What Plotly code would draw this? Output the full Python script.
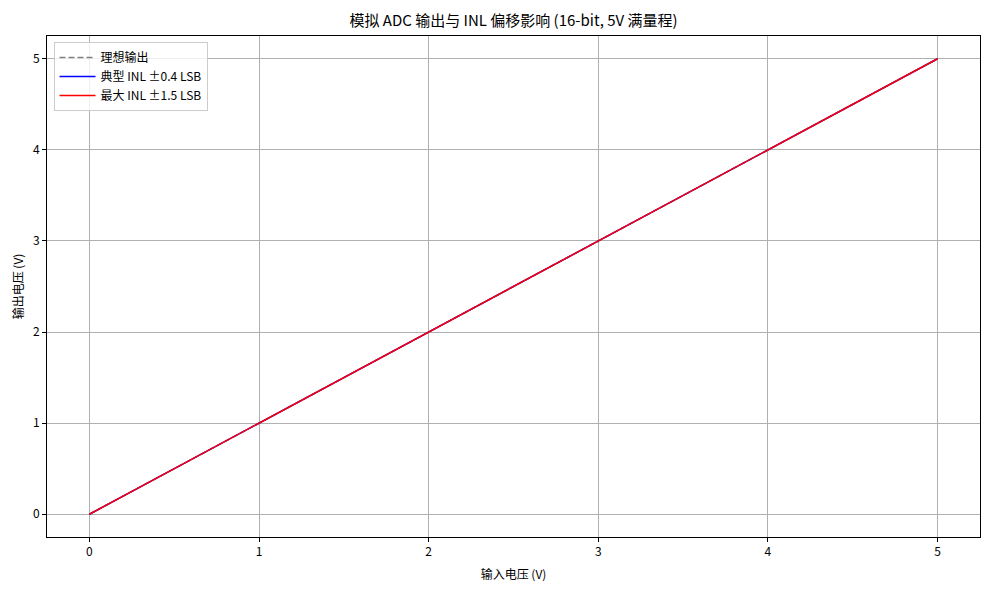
import plotly.graph_objects as go

# Data
input_v = [0.0, 0.5, 1.0, 1.5, 2.0, 2.5, 3.0, 3.5, 4.0, 4.5, 5.0]
ideal_out = [0.0, 0.5, 1.0, 1.5, 2.0, 2.5, 3.0, 3.5, 4.0, 4.5, 5.0]
typical_out = [0.0, 0.50001, 1.00002, 1.50003, 2.00003, 2.50003, 3.00002, 3.50001, 4.0, 4.49999, 5.0]
max_out = [0.0, 0.50004, 1.00007, 1.50009, 2.00011, 2.50011, 3.00009, 3.50006, 4.00003, 4.5, 5.0]

series_names = ["理想输出", "典型 INL ±0.4 LSB", "最大 INL ±1.5 LSB"]
x_ticks = [0, 1, 2, 3, 4, 5]
y_ticks = [0, 1, 2, 3, 4, 5]

FONT = "Noto Sans CJK SC, Noto Sans, DejaVu Sans, sans-serif"

fig = go.Figure()
fig.add_trace(go.Scatter(x=input_v, y=ideal_out, mode="lines", name=series_names[0],
                         line=dict(color="gray", width=1.5, dash="6px,3px")))
fig.add_trace(go.Scatter(x=input_v, y=typical_out, mode="lines", name=series_names[1],
                         line=dict(color="blue", width=1.5)))
fig.add_trace(go.Scatter(x=input_v, y=max_out, mode="lines", name=series_names[2],
                         line=dict(color="red", width=1.5)))

axis_common = dict(
    showline=True, linecolor="black", linewidth=1, mirror=True,
    showgrid=True, gridcolor="#b0b0b0", gridwidth=1,
    ticks="outside", ticklen=4, tickcolor="black", tickwidth=1,
    zeroline=False, tickfont=dict(size=12, color="black"), automargin=False,
)

fig.update_layout(
    width=981, height=582,
    margin=dict(l=39, r=9, t=28, b=53, autoexpand=False),
    paper_bgcolor="white", plot_bgcolor="white",
    font=dict(family=FONT, size=12, color="black"),
    title=dict(text="模拟 ADC 输出与 INL 偏移影响 (16-bit, 5V 满量程)", x=0.5, xanchor="center",
               xref="paper", y=0.978, yanchor="middle", font=dict(size=15, color="black")),
    xaxis=dict(range=[-0.25, 5.25], tickvals=x_ticks,
               title=dict(text="输入电压 (V)", font=dict(size=12), standoff=12), **axis_common),
    yaxis=dict(range=[-0.25, 5.25], tickvals=y_ticks,
               title=dict(text="输出电压 (V)", font=dict(size=12), standoff=6), **axis_common),
    legend=dict(x=0.007, y=0.988, xanchor="left", yanchor="top",
                bgcolor="rgba(255,255,255,0.8)", bordercolor="#cccccc", borderwidth=1,
                font=dict(size=12), tracegroupgap=0, itemwidth=36),
    showlegend=True,
)

fig.write_html("out.html")
